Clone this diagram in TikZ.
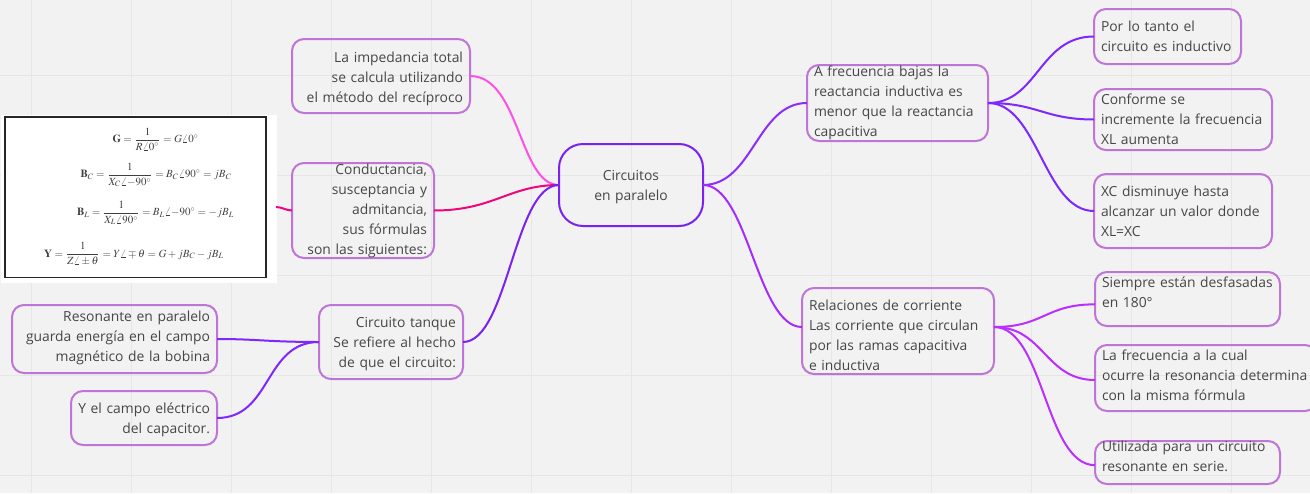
\documentclass[tikz,border=0pt]{standalone}
\usepackage[no-math]{fontspec}
\usepackage{mathptmx}
\setmainfont{Open Sans}
\definecolor{canvas}{RGB}{242,242,242}
\definecolor{gridline}{RGB}{230,230,230}
\definecolor{boxline}{RGB}{191,116,216}
\definecolor{inkgray}{RGB}{70,70,70}
\definecolor{rootline}{RGB}{122,34,240}
\definecolor{pinkline}{RGB}{255,80,230}
\definecolor{redline}{RGB}{240,5,125}
\definecolor{violetline}{RGB}{125,40,255}
\definecolor{upperline}{RGB}{139,44,255}
\definecolor{lowerline}{RGB}{165,44,255}
\definecolor{purpleline}{RGB}{186,47,255}
\tikzset{every picture/.style={line width=0.75pt}}
\tikzset{
  idea/.style n args={3}{draw=boxline,line width=1.5pt,rounded corners=9pt,anchor=north west,
    text=inkgray,font=\fontsize{10.4}{15}\selectfont,inner xsep=5.25pt,inner ysep=0pt,outer sep=0pt,
    text width=(#1-14)*0.75pt,text height=#3*0.75pt,text depth=(#2-#3)*0.75pt},
  ideal/.style n args={3}{idea={#1}{#2}{#3},align=left},
  idear/.style n args={3}{idea={#1}{#2}{#3},align=right},
  formula/.style={text=black!75,font=\fontsize{8.2}{10}\selectfont,inner sep=0pt},
  branch/.style={line width=1.5pt}
}

\begin{document}
\begin{tikzpicture}[x=0.75pt,y=0.75pt,yscale=-1,xscale=1]
\useasboundingbox (0,0) rectangle (1310,493);
\fill [canvas] (0,0) rectangle (1310,493);

%Grid Lines
\foreach \gx in {31.5,131.5,...,1300} \draw [gridline] (\gx,0) -- (\gx,493);
\foreach \gy in {75,175,...,480} \draw [gridline] (0,\gy) -- (1310,\gy);

%Shape: Picture
\node [fill=white,minimum width=207pt,minimum height=126pt,inner sep=0pt,anchor=north west] (paper) at (0,114) {};
\node [draw=black!85,line width=1.2pt,minimum width=196pt,minimum height=120.5pt,inner sep=0pt,anchor=north west] (frame) at (4,116) {};
\coordinate (paperout) at (276,207);

% Text Node
\node [formula] (eqg) at (155.5,139) {$\displaystyle \mathbf{G}=\frac{1}{R\angle 0^\circ}=G\angle 0^\circ$};
\node [formula] (eqc) at (156,175) {$\displaystyle \mathbf{B}_C=\frac{1}{X_C\angle{-90^\circ}}=B_C\angle 90^\circ=jB_C$};
\node [formula] (eql) at (155.5,213) {$\displaystyle \mathbf{B}_L=\frac{1}{X_L\angle 90^\circ}=B_L\angle{-90^\circ}=-jB_L$};
\node [formula] (eqy) at (134,254) {$\displaystyle \mathbf{Y}=\frac{1}{Z\angle\pm\theta}=Y\angle\mp\theta=G+jB_C-jB_L$};

%Shape: Rounded Rectangle
\node [idea={144}{82}{36},align=center,draw=rootline,rounded corners=18pt] (root) at (559,144) {Circuitos\\en paralelo};
\node [idear={178}{74}{23}] (total) at (292,39) {La impedancia total\\se calcula utilizando\\el método del recíproco};
\node [idear={142}{95}{11}] (suscept) at (292,163) {Conductancia,\\susceptancia y\\admitancia,\\sus fórmulas\\son las siguientes:};
\node [idear={144}{74}{22}] (tanque) at (319,305) {Circuito tanque\\Se refiere al hecho\\de que el circuito:};
\node [idear={205}{68}{16}] (bobina) at (12,305) {Resonante en paralelo\\guarda energía en el campo\\magnético de la bobina};
\node [idear={146}{54}{22}] (capacitor) at (71,391) {Y el campo eléctrico\\del capacitor.};
\node [ideal={181}{76}{11}] (bajas) at (807,65) {A frecuencia bajas la\\reactancia inductiva es\\menor que la reactancia\\capacitiva};
\node [ideal={147}{55}{22}] (inductivo) at (1094,9) {Por lo tanto el\\circuito es inductivo};
\node [ideal={178}{61}{15}] (aumenta) at (1094,89) {Conforme se\\incremente la frecuencia\\XL aumenta};
\node [ideal={178}{74}{22}] (disminuye) at (1094,174) {XC disminuye hasta\\alcanzar un valor donde\\XL=XC};
\node [ideal={192}{86}{22}] (corriente) at (802,288) {Relaciones de corriente\\Las corriente que circulan\\por las ramas capacitiva\\e inductiva};
\node [ideal={185}{54}{15}] (desfasadas) at (1095,272) {Siempre están desfasadas\\en 180°};
\node [ideal={222}{66}{15}] (misma) at (1095,345) {La frecuencia a la cual\\ocurre la resonancia determina\\con la misma fórmula};
\node [ideal={185}{43}{10}] (serie) at (1095,441) {Utilizada para un circuito\\resonante en serie.};

%Curve Lines
\draw [branch,pinkline] (total.east) .. controls +(50,0) and +(-40,0) .. (root.west);
\draw [branch,redline] (suscept.east) .. controls +(60,0) and +(-50,0) .. (root.west);
\draw [branch,rootline] (tanque.east) .. controls +(45,0) and +(-45,0) .. (root.west);
\draw [branch,redline] (paperout) .. controls +(6,0) and +(-6,0) .. (suscept.west);
\draw [branch,violetline] (bobina.east) .. controls +(40,0) and +(-50,0) .. (tanque.west);
\draw [branch,violetline] (capacitor.east) .. controls +(55,0) and +(-55,0) .. (tanque.west);
\draw [branch,upperline] (root.east) .. controls +(50,0) and +(-50,0) .. (bajas.west);
\draw [branch,lowerline] (root.east) .. controls +(45,0) and +(-45,0) .. ([yshift=-3pt]corriente.west);
\draw [branch,violetline] (bajas.east) .. controls +(50,0) and +(-55,0) .. (inductivo.west);
\draw [branch,violetline] (bajas.east) .. controls +(50,0) and +(-50,0) .. (aumenta.west);
\draw [branch,violetline] (bajas.east) .. controls +(50,0) and +(-50,0) .. (disminuye.west);
\draw [branch,purpleline] ([yshift=-3pt]corriente.east) .. controls +(50,0) and +(-50,0) .. ([yshift=4pt]desfasadas.west);
\draw [branch,purpleline] ([yshift=-3pt]corriente.east) .. controls +(50,0) and +(-50,0) .. ([yshift=1.5pt]misma.west);
\draw [branch,purpleline] ([yshift=-3pt]corriente.east) .. controls +(50,0) and +(-50,0) .. ([yshift=2pt]serie.west);

\end{tikzpicture}
\end{document}
